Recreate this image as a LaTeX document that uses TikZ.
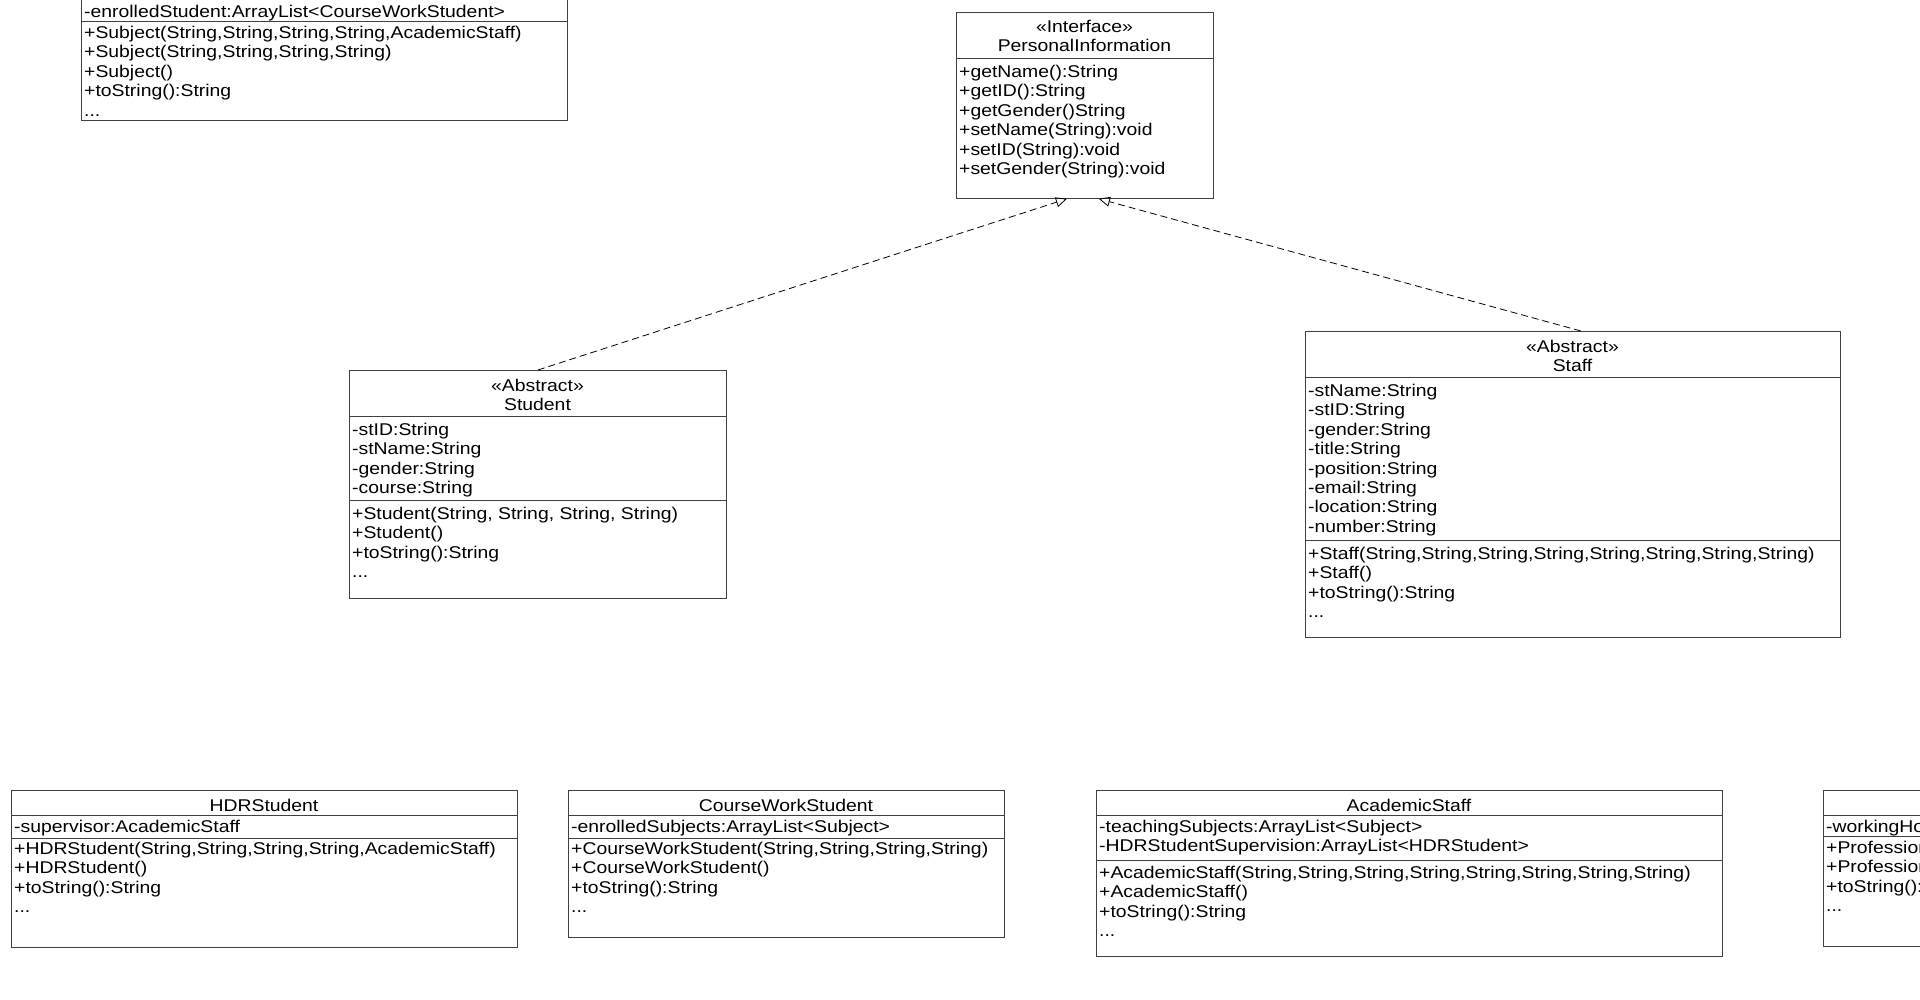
\documentclass[tikz,border=0pt]{standalone}
\usepackage{fontspec}
\setmainfont{Liberation Sans}[FakeStretch=1.14]
\usetikzlibrary{arrows.meta}
\newcommand\umlfont{\fontsize{17}{19.4}\selectfont}
\begin{document}
\begin{tikzpicture}[x=1pt,y=-1pt,
  box/.style={draw=black!75,line width=0.8pt},
  sep/.style={draw=black!75,line width=0.8pt},
  txt/.style={anchor=north west,align=left,inner sep=0pt,font=\umlfont},
  ttl/.style={anchor=north,align=center,inner sep=0pt,font=\umlfont},
  real/.style={dash pattern=on 7pt off 4pt,line width=0.8pt,-{Triangle[open,length=11pt,width=10pt]}}]
\useasboundingbox (0,0) rectangle (1920,999);
\fill[white] (0,0) rectangle (1920,999);
% Subject (partial)
\draw[box] (81,-30) rectangle (567,120);
\draw[sep] (81,21) -- (567,21);
\node[txt,anchor=south west] (subA) at (84,21) {-enrolledStudent:ArrayList<CourseWorkStudent>};
\node[txt] (subM) at (84,26) {+Subject(String,String,String,String,AcademicStaff)\\+Subject(String,String,String,String)\\+Subject()\\+toString():String\\...};
% PersonalInformation
\node[box,anchor=north west,minimum width=257pt,minimum height=186pt,inner sep=0pt] (pi) at (956,12) {};
\draw[sep] (956,58) -- (1213,58);
\node[ttl] (piT) at (1084.5,20) {«Interface»\\PersonalInformation};
\node[txt] (piM) at (959,65) {+getName():String\\+getID():String\\+getGender()String\\+setName(String):void\\+setID(String):void\\+setGender(String):void};
% Student
\node[box,anchor=north west,minimum width=377pt,minimum height=228pt,inner sep=0pt] (stu) at (349,370) {};
\draw[sep] (349,416) -- (726,416);
\draw[sep] (349,500) -- (726,500);
\node[ttl] (stuT) at (537.5,379) {«Abstract»\\Student};
\node[txt] (stuA) at (352,423) {-stID:String\\-stName:String\\-gender:String\\-course:String};
\node[txt] (stuM) at (352,507) {+Student(String, String, String, String)\\+Student()\\+toString():String\\...};
% Staff
\node[box,anchor=north west,minimum width=535pt,minimum height=306pt,inner sep=0pt] (staff) at (1305,331) {};
\draw[sep] (1305,377) -- (1840,377);
\draw[sep] (1305,540) -- (1840,540);
\node[ttl] (staffT) at (1572.5,340) {«Abstract»\\Staff};
\node[txt] (staffA) at (1308,384) {-stName:String\\-stID:String\\-gender:String\\-title:String\\-position:String\\-email:String\\-location:String\\-number:String};
\node[txt] (staffM) at (1308,547) {+Staff(String,String,String,String,String,String,String,String)\\+Staff()\\+toString():String\\...};
% HDRStudent
\node[box,anchor=north west,minimum width=506pt,minimum height=157pt,inner sep=0pt] (hdr) at (11,790) {};
\draw[sep] (11,815) -- (517,815);
\draw[sep] (11,838) -- (517,838);
\node[ttl] (hdrT) at (264,799) {HDRStudent};
\node[txt] (hdrA) at (14,820) {-supervisor:AcademicStaff};
\node[txt] (hdrM) at (14,842) {+HDRStudent(String,String,String,String,AcademicStaff)\\+HDRStudent()\\+toString():String\\...};
% CourseWorkStudent
\node[box,anchor=north west,minimum width=436pt,minimum height=147pt,inner sep=0pt] (cws) at (568,790) {};
\draw[sep] (568,815) -- (1004,815);
\draw[sep] (568,838) -- (1004,838);
\node[ttl] (cwsT) at (786,799) {CourseWorkStudent};
\node[txt] (cwsA) at (571,820) {-enrolledSubjects:ArrayList<Subject>};
\node[txt] (cwsM) at (571,842) {+CourseWorkStudent(String,String,String,String)\\+CourseWorkStudent()\\+toString():String\\...};
% AcademicStaff
\node[box,anchor=north west,minimum width=626pt,minimum height=166pt,inner sep=0pt] (acs) at (1096,790) {};
\draw[sep] (1096,815) -- (1722,815);
\draw[sep] (1096,860) -- (1722,860);
\node[ttl] (acsT) at (1409,799) {AcademicStaff};
\node[txt] (acsA) at (1099,820) {-teachingSubjects:ArrayList<Subject>\\-HDRStudentSupervision:ArrayList<HDRStudent>};
\node[txt] (acsM) at (1099,866) {+AcademicStaff(String,String,String,String,String,String,String,String)\\+AcademicStaff()\\+toString():String\\...};
% Professional (partial)
\begin{scope}
\clip (0,0) rectangle (1920,999);
\draw[box] (1823,790) rectangle (1960,946);
\draw[sep] (1823,815) -- (1960,815);
\draw[sep] (1823,836) -- (1960,836);
\node[txt] (proA) at (1826,820) {-workingHours:int};
\node[txt] (proM) at (1826,841) {+ProfessionalStaff(String)\\+ProfessionalStaff()\\+toString():String\\...};
\end{scope}
% realizations
\draw[real] (stu.north) -- ([xshift=-18pt]pi.south);
\draw[real] ([xshift=8pt]staff.north) -- ([xshift=14pt]pi.south);
\end{tikzpicture}
\end{document}
